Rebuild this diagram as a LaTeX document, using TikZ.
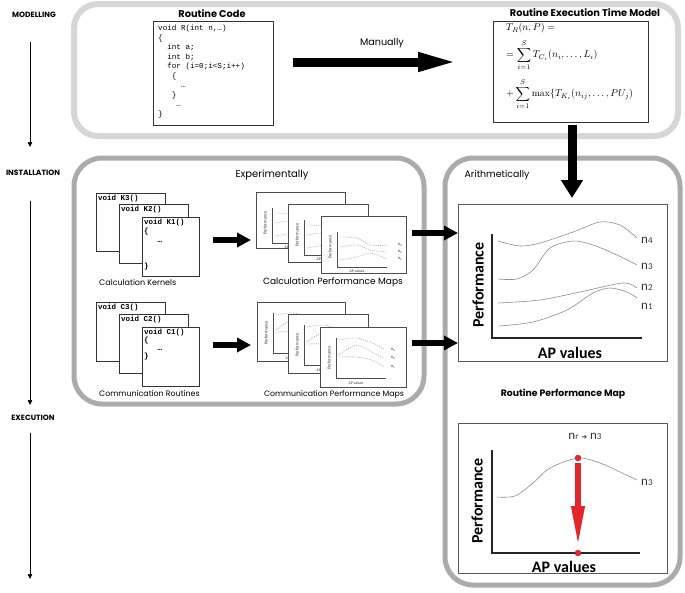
\documentclass[tikz,border=0pt]{standalone}
\usepackage{fontspec}
\newfontfamily\gothic{Poppins}
\newfontfamily\calib{Carlito}
\newfontfamily\mono{Liberation Mono}
\newfontfamily\dejavu{DejaVu Sans}
\usetikzlibrary{arrows.meta}
\definecolor{frameAc}{HTML}{D6D6D6}
\definecolor{frameBc}{HTML}{ABABAB}
\definecolor{curvegray}{HTML}{8C8C8C}
\definecolor{arrred}{HTML}{E3262B}
\newcommand\gsz[1]{\fontsize{#1}{#1}\selectfont}
\tikzset{
  phase/.style={font=\gothic\bfseries\gsz{7.6}, inner sep=0},
  phasearrow/.style={line width=0.7pt, -{Triangle[length=5pt,width=4.5pt]}},
  frameTop/.style={draw=frameAc, line width=6pt, rounded corners=24pt},
  frameInst/.style={draw=frameBc, line width=5pt, rounded corners=28pt},
  codebox/.style={draw=black!80, line width=0.8pt, fill=white, inner sep=0, anchor=north west},
  mapbox/.style={draw=black!70, line width=0.7pt, fill=white, inner sep=0, anchor=north west},
  titletext/.style={font=\gothic\bfseries\gsz{9.8}, inner sep=0},
  plain/.style={font=\gothic\gsz{8.3}, inner sep=0},
  codetext/.style={font=\mono\bfseries\fontsize{7.5}{9}\selectfont, inner sep=0, anchor=north west},
  bigarrow/.style={line width=9pt, -{Triangle[length=41pt,width=17pt]}},
  downarrow/.style={line width=9pt, -{Triangle[length=18pt,width=21pt]}},
  midarrow/.style={line width=6pt, -{Triangle[length=14pt,width=14pt]}},
  chartbox/.style={draw=black!65, line width=0.8pt, fill=white, inner sep=0, anchor=north west},
  chartaxis/.style={line width=1.5pt, draw=black!85},
  curve/.style={draw=curvegray, line width=0.6pt},
  chartlab/.style={font=\calib\bfseries\fontsize{16}{18}\selectfont, inner sep=0},
  nlab/.style={font=\calib\fontsize{13}{14}\selectfont, text=black!80, inner sep=0, anchor=west},
  tinyaxis/.style={line width=0.5pt, draw=black!70},
  tinycurve/.style={draw=black!45, line width=0.35pt, dash pattern=on 1.2pt off 1pt},
  tinylab/.style={font=\calib\fontsize{4.5}{5}\selectfont, inner sep=0, text=black!80},
  reddot/.style={circle, fill=arrred, draw=arrred!80!black, line width=0.3pt, minimum size=6pt, inner sep=0},
  redarrow/.style={line width=6.5pt, draw=arrred, -{Triangle[length=43pt,width=12pt]}},
  mathline/.style={anchor=west, inner sep=0, font=\fontsize{9.8}{11}\selectfont},
  calcmap/.pic={
    \node[tinylab, rotate=90] at (9,31) {Performance};
    \draw[tinyaxis] (16,16) -- (16,51) -- (66,51);
    \node[tinylab, font=\calib\fontsize{3.8}{4}\selectfont] at (36,55) {AP values};
    \draw[tinycurve] plot[smooth] coordinates {(19,21) (36,22) (49,29) (66,29)};
    \draw[tinycurve] plot[smooth] coordinates {(19,31) (36,29) (49,34) (66,36)};
    \draw[tinycurve] plot[smooth] coordinates {(19,44) (36,41) (49,37) (66,43)};
    \node[tinylab] at (79,29) {n\textsubscript{4}};
    \node[tinylab] at (79,36) {n\textsubscript{3}};
    \node[tinylab] at (79,43) {n\textsubscript{1}};
  },
  commmap/.pic={
    \node[tinylab, rotate=90] at (9,31) {Performance};
    \draw[tinyaxis] (16,11) -- (16,51) -- (66,51);
    \node[tinylab, font=\calib\fontsize{3.8}{4}\selectfont] at (36,56) {AP values};
    \draw[tinycurve] plot[smooth] coordinates {(19,13) (36,11) (52,16) (64,22)};
    \draw[tinycurve] plot[smooth] coordinates {(19,28) (36,18) (52,25) (64,31)};
    \draw[tinycurve] plot[smooth] coordinates {(19,30) (36,30) (52,33) (64,40)};
    \node[tinylab] at (73,23) {n\textsubscript{4}};
    \node[tinylab] at (73,31) {n\textsubscript{3}};
    \node[tinylab] at (73,40) {n\textsubscript{1}};
  }
}
\begin{document}
\begin{tikzpicture}[x=1pt,y=-1pt]
\useasboundingbox[fill=white] (0,0) rectangle (685,592);

% frames
\draw[frameTop] (74,4) rectangle (678,136);
\draw[frameInst] (74,158) rectangle (424,404);
\draw[frameInst] (445,158) rectangle (680,585);

% phase labels and arrows
\node[phase] (pm) at (34,15) {MODELLING};
\coordinate (pm1) at (30,42); \coordinate (pm2) at (30,147);
\draw[phasearrow] (pm1) -- (pm2);
\node[phase] (pi) at (33,173) {INSTALLATION};
\coordinate (pi1) at (30,201); \coordinate (pi2) at (30,405);
\draw[phasearrow] (pi1) -- (pi2);
\node[phase] (pe) at (33,418) {EXECUTION};
\coordinate (pe1) at (30,433); \coordinate (pe2) at (30,579);
\draw[phasearrow] (pe1) -- (pe2);

% routine code
\node[titletext] (rct) at (212,14) {Routine Code};
\node[codebox, minimum width=120pt, minimum height=104pt] (rc) at (153,21) {};
\node[anchor=north west, align=left, font=\mono\fontsize{7.6}{9.5}\selectfont, inner sep=0] (rctext) at (158,25)
 {void R(int n,…)\\
  \{\\
  \phantom{xx}int a;\\
  \phantom{xx}int b;\\
  \phantom{xx}for (i=0;i<S;i++)\\
  \phantom{xxx}\{\\
  \phantom{xxxxx}…\\
  \phantom{xxx}\}\\
  \phantom{xxxx}…\\
  \}};

% manually arrow
\coordinate (ma1) at (293,62); \coordinate (ma2) at (459,62);
\draw[bigarrow] (ma1) -- (ma2);
\node[plain, font=\gothic\gsz{9.6}] (man) at (382,43) {Manually};

% time model
\node[titletext] (tmt) at (585,13) {Routine Execution Time Model};
\node[codebox, minimum width=155pt, minimum height=101pt] (tm) at (493,21) {};
\node[mathline] (f1) at (506,28) {$T_R(n,P) =$};
\node[mathline] (f2) at (506,55) {$\displaystyle =\sum_{i=1}^{S} T_{C_i}(n_i,\ldots,L_i)$};
\node[mathline] (f3) at (506,94) {$\displaystyle +\sum_{i=1}^{S} \max\{T_{K_i}(n_{ij},\ldots,PU_j)$};

% down arrow
\coordinate (da1) at (572,125); \coordinate (da2) at (572,198);
\draw[downarrow] (da1) -- (da2);

% installation
\node[plain, font=\gothic\gsz{10}] (exp) at (272,175) {Experimentally};

\node[codebox, minimum width=69pt, minimum height=58pt] (k3) at (96,193) {};
\node[codetext] (k3t) at ([xshift=2pt,yshift=-2pt]k3.north west) {void K3()};
\node[codebox, minimum width=69pt, minimum height=59pt] (k2) at (119,204) {};
\node[codetext] (k2t) at ([xshift=2pt,yshift=-2pt]k2.north west) {void K2()};
\node[codebox, minimum width=57pt, minimum height=59pt] (k1) at (142,217) {};
\node[codetext, align=left] (k1t) at ([xshift=2pt,yshift=-2pt]k1.north west) {void K1()\\\{\\\phantom{xxx}…};
\node[codetext] (k1e) at ([xshift=2pt,yshift=-46pt]k1.north west) {\}};
\node[plain, anchor=west, font=\gothic\gsz{8}] (ck) at (99,282) {Calculation Kernels};

\coordinate (ka1) at (213,240); \coordinate (ka2) at (251,240);
\draw[midarrow] (ka1) -- (ka2);

\node[mapbox, minimum width=89pt, minimum height=56pt] (m1) at (256,192) {};
\pic at (m1.north west) {calcmap};
\node[mapbox, minimum width=80pt, minimum height=58pt] (m2) at (288,204) {};
\pic at (m2.north west) {calcmap};
\node[mapbox, minimum width=85pt, minimum height=57pt] (m3) at (321,216) {};
\pic at (m3.north west) {calcmap};
\node[plain, font=\gothic\gsz{9}] (cpm) at (333,282) {Calculation Performance Maps};

\node[codebox, minimum width=69pt, minimum height=59pt] (c3) at (96,302) {};
\node[codetext] (c3t) at ([xshift=2pt,yshift=-2pt]c3.north west) {void C3()};
\node[codebox, minimum width=69pt, minimum height=59pt] (c2) at (119,314) {};
\node[codetext] (c2t) at ([xshift=2pt,yshift=-2pt]c2.north west) {void C2()};
\node[codebox, minimum width=57pt, minimum height=59pt] (c1) at (142,327) {};
\node[codetext, align=left, font=\mono\bfseries\fontsize{7.5}{8}\selectfont] (c1t) at ([xshift=2pt,yshift=-2pt]c1.north west) {void C1()\\\{\\\phantom{xxx}…\\\}};
\node[plain, anchor=west, font=\gothic\gsz{7.9}] (cr) at (99,394) {Communication Routines};

\coordinate (ca1) at (213,345); \coordinate (ca2) at (251,345);
\draw[midarrow] (ca1) -- (ca2);

\node[mapbox, minimum width=88pt, minimum height=59pt] (n1) at (257,302) {};
\pic at (n1.north west) {commmap};
\node[mapbox, minimum width=80pt, minimum height=59pt] (n2) at (288,314) {};
\pic at (n2.north west) {commmap};
\node[mapbox, minimum width=86pt, minimum height=60pt] (n3) at (320,327) {};
\pic at (n3.north west) {commmap};
\node[plain, font=\gothic\gsz{7.8}] (compm) at (334,395) {Communication Performance Maps};

% arithmetic
\node[plain, font=\gothic\gsz{9.4}] (ari) at (497,175) {Arithmetically};
\node[chartbox, minimum width=209pt, minimum height=157pt] (ch1) at (458,204) {};
\coordinate (ra1) at (412,233); \coordinate (ra2) at (ch1.west |- ra1);
\draw[midarrow] (ra1) -- (ra2);
\coordinate (rb1) at (412,343); \coordinate (rb2) at (ch1.west |- rb1);
\draw[midarrow] (rb1) -- (rb2);

\draw[chartaxis] (492,234) -- (492,338) -- (642,338);
\node[chartlab, rotate=90] (p1) at (478,285) {Performance};
\node[chartlab] (ap1) at (570,353) {AP values};
\draw[curve] plot[smooth] coordinates {(498,241) (520,246) (540,243) (573,232) (600,222) (620,225) (637,238)};
\draw[curve] plot[smooth] coordinates {(498,279) (517,279) (533,270) (550,248) (573,241) (593,245) (617,255) (637,265)};
\draw[curve] plot[smooth] coordinates {(498,303) (540,300) (580,292) (623,283) (637,288)};
\draw[curve] plot[smooth] coordinates {(499,326) (533,322) (567,310) (593,293) (610,288) (627,292) (637,298)};
\node[nlab] (l4) at (641,240) {n{\fontsize{9}{9}\selectfont 4}};
\node[nlab] (l3) at (641,266) {n{\fontsize{9}{9}\selectfont 3}};
\node[nlab] (l2) at (641,287) {n{\fontsize{9}{9}\selectfont 2}};
\node[nlab] (l1) at (641,306) {n{\fontsize{9}{9}\selectfont 1}};

% routine performance map
\node[titletext, font=\gothic\bfseries\gsz{9.3}] (rpm) at (563,394) {Routine Performance Map};
\node[chartbox, minimum width=209pt, minimum height=150pt] (ch2) at (458,423) {};
\draw[chartaxis] (492,450) -- (492,553) -- (640,553);
\node[chartlab, rotate=90] (p2) at (477,501) {Performance};
\node[chartlab] (ap2) at (564,567) {AP values};
\draw[curve] plot[smooth] coordinates {(497,497) (515,496) (533,483) (550,468) (578,458) (600,463) (620,472) (637,480)};
\node[nlab] (l3b) at (641,482) {n{\fontsize{9}{9}\selectfont 3}};
\node[nlab, anchor=center] (nr) at (585,436) {n{\fontsize{9}{9}\selectfont r} {\dejavu\fontsize{7}{7}\selectfont ➔} n{\fontsize{9}{9}\selectfont 3}};
\node[reddot] (d1) at (578,458) {};
\node[reddot] (d2) at (578,553) {};
\draw[redarrow] ([yshift=-5pt]d1.center) -- ([yshift=4pt]d2.center);
\end{tikzpicture}
\end{document}
